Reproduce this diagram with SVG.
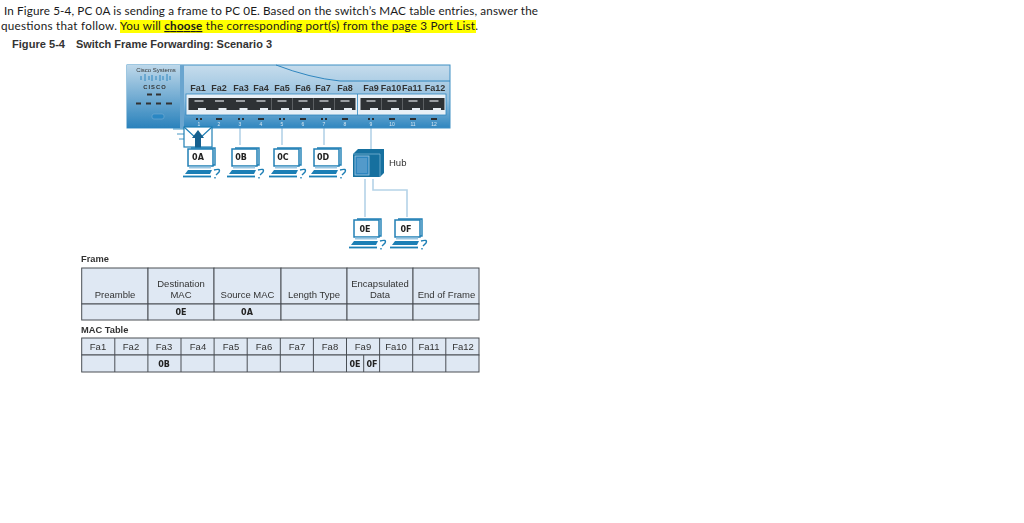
<svg xmlns="http://www.w3.org/2000/svg" width="1024" height="523" viewBox="0 0 1024 523">
<defs>
<linearGradient id="sw" x1="0" y1="0" x2="0" y2="1"><stop offset="0" stop-color="#c6dcec"/><stop offset="0.55" stop-color="#93bfde"/><stop offset="1" stop-color="#2f86bf"/></linearGradient>
<linearGradient id="lp" x1="0" y1="0" x2="0" y2="1"><stop offset="0" stop-color="#bed8ea"/><stop offset="1" stop-color="#2a82bc"/></linearGradient>
<filter id="soft" x="-5%" y="-5%" width="110%" height="110%"><feGaussianBlur stdDeviation="0.4"/></filter>
<g id="pc">
<rect x="2" y="2" width="25" height="17" fill="#fff" stroke="#1f7fb5" stroke-width="1.5"/>
<path d="M5 1H29V18H27" fill="none" stroke="#1f7fb5" stroke-width="1.4"/>
<path d="M3 19.500H25V21.500H3Z" fill="#9cc7e2"/>
<path d="M2 23H26L24 27H-1Z" fill="#1f7fb5"/>
<path d="M-3 29.500H25" stroke="#1f7fb5" stroke-width="1.800"/>
<path d="M28 23Q35 21 33 25L30 28M29 30V31.500" fill="none" stroke="#1f7fb5" stroke-width="1.400"/>
</g>
<g id="port"><rect x="-10.500" y="0" width="21" height="12" fill="#2e3034"/><rect x="-4.500" y="2" width="9" height="2" fill="#9a9ea2"/><rect x="-1" y="10" width="8" height="2.500" fill="#e8eef3"/></g>
</defs>
<style>
.t{font-family:"Lato","Open Sans",sans-serif;font-size:11.700px;fill:#1a1a1a}
.f{font-family:"Liberation Sans",Arial,sans-serif;fill:#333}
.h{font-family:"Liberation Sans",Arial,sans-serif;font-weight:bold;font-size:10.500px;fill:#333}
.pl{font-size:9px;font-weight:bold;fill:#333;text-anchor:middle;font-family:"Liberation Sans",Arial,sans-serif}
.c{font-size:9.500px;text-anchor:middle}
.id{font-size:8px;font-weight:bold;text-anchor:middle;fill:#222;font-family:"DejaVu Sans",sans-serif}
.cell{fill:#dfe8f3;stroke:#4a4f55;stroke-width:1}
.link{fill:none;stroke:#b5d3e8;stroke-width:1.600}
.n{font-size:5px;fill:#d8e6f0;text-anchor:middle;font-family:"Liberation Sans",Arial,sans-serif}
</style>

<g id="intro">
<rect x="120" y="20" width="356" height="13" fill="#ffff00"/>
<text class="t" x="4" y="15" textLength="534">In Figure 5-4, PC 0A is sending a frame to PC 0E. Based on the switch’s MAC table entries, answer the</text>
<text class="t" x="1" y="30" textLength="116">questions that follow.</text>
<text class="t" x="120" y="30" textLength="358">You will <tspan font-weight="bold" text-decoration="underline">choose</tspan> the corresponding port(s) from the page 3 Port List.</text>
<text class="h" x="12" y="48" textLength="53" lengthAdjust="spacingAndGlyphs">Figure 5-4</text>
<text class="h" x="76" y="48" textLength="196" lengthAdjust="spacingAndGlyphs">Switch Frame Forwarding: Scenario 3</text>
</g>

<g filter="url(#soft)">
<g id="connectors">
<path class="link" d="M240 111V145M282 111V145M324 111V145M371 111V149"/>
<path class="link" d="M365 179V217M373 179V190H407V217"/>
<path class="link" d="M199 111V120"/>
</g>

<g id="switch">
<rect x="127" y="65" width="323" height="63" fill="url(#sw)" stroke="#3f8fc4"/>
<rect x="127" y="65" width="57" height="63" fill="url(#lp)"/>
<rect x="180" y="65" width="4" height="63" fill="#6aa5cf"/>
<path d="M276 65Q310 78 340 81H450" fill="none" stroke="#2f86bf"/>
<text class="f" x="156" y="72" font-size="6" text-anchor="middle">Cisco Systems</text>
<path d="M141 80V76M145 81V74M149 80V76M152 81V75M156 80V76M160 81V75M163 80V76M167 81V74M170 80V76" stroke="#2f86bf" stroke-width="1"/>
<text class="f" x="155" y="89" font-size="5.800" font-weight="bold" text-anchor="middle" letter-spacing="1" fill="#222">CISCO</text>
<path d="M147 94.500H152M156 94.500H161M136 103.500H141M146 103.500H151M156 103.500H161M166 103.500H172" stroke="#333" stroke-width="2"/>
<rect x="152" y="114" width="12" height="5" rx="2" fill="#2b87c3" stroke="#7fb2d4" stroke-width="0.500"/>
<text class="pl" x="198" y="91">Fa1</text><text class="pl" x="219" y="91">Fa2</text><text class="pl" x="241" y="91">Fa3</text><text class="pl" x="261" y="91">Fa4</text><text class="pl" x="282" y="91">Fa5</text><text class="pl" x="303" y="91">Fa6</text><text class="pl" x="323" y="91">Fa7</text><text class="pl" x="345" y="91">Fa8</text><text class="pl" x="371" y="91">Fa9</text><text class="pl" x="391" y="91">Fa10</text><text class="pl" x="412" y="91">Fa11</text><text class="pl" x="435" y="91">Fa12</text>
<rect x="186" y="94" width="260" height="21" fill="#e9f0f6" stroke="#2f86bf" stroke-width="0.800"/>
<path d="M357.500 94V115" stroke="#2f86bf" stroke-width="0.800"/>
<use href="#port" x="199" y="98"/><use href="#port" x="219.500" y="98"/><use href="#port" x="240.500" y="98"/><use href="#port" x="261" y="98"/><use href="#port" x="282" y="98"/><use href="#port" x="303" y="98"/><use href="#port" x="324" y="98"/><use href="#port" x="345" y="98"/><use href="#port" x="371" y="98"/><use href="#port" x="392" y="98"/><use href="#port" x="413" y="98"/><use href="#port" x="434" y="98"/>
<path d="M196 119H198M200 119H202M238 119H240M242 119H244M279 119H281M283 119H285M321 119H323M325 119H327M368 119H370M372 119H374M216 119H222M258 119H264M300 119H306M342 119H348M389 119H395M410 119H416M431 119H437" stroke="#2b2f33" stroke-width="1.800"/>
<text class="n" x="199" y="126">1</text><text class="n" x="219" y="126">2</text><text class="n" x="240" y="126">3</text><text class="n" x="261" y="126">4</text><text class="n" x="282" y="126">5</text><text class="n" x="303" y="126">6</text><text class="n" x="324" y="126">7</text><text class="n" x="345" y="126">8</text><text class="n" x="371" y="126">9</text><text class="n" x="392" y="126">10</text><text class="n" x="413" y="126">11</text><text class="n" x="434" y="126">12</text>
</g>

<g id="frame-icon">
<path d="M173 129H184M177 134H184M179 139H184" stroke="#1f7fb5" stroke-width="0.800"/>
<rect x="184" y="127" width="28" height="20" fill="#fff" stroke="#1f7fb5" stroke-width="1.200"/>
<path d="M184 127L198 140L212 127" fill="none" stroke="#1f7fb5" stroke-width="1.200"/>
<path d="M198 130L204 138H201V148H195V138H192Z" fill="#14618f"/>
</g>

<g id="pc-0A"><use href="#pc" x="186" y="147"/><text class="id" x="198" y="160">0A</text></g>
<g id="pc-0B"><use href="#pc" x="230" y="147"/><text class="id" x="241" y="160">0B</text></g>
<g id="pc-0C"><use href="#pc" x="272" y="147"/><text class="id" x="283" y="160">0C</text></g>
<g id="pc-0D"><use href="#pc" x="312" y="147"/><text class="id" x="323" y="160">0D</text></g>

<g id="hub">
<path d="M353 154L358 149H384V173L380 177H353Z" fill="#14709f"/>
<path d="M353 154H380V177" fill="none" stroke="#8dbcdb" stroke-width="0.700"/>
<rect x="355" y="156" width="14" height="19" fill="#2f86bf" stroke="#a5cbe4" stroke-width="0.800"/>
<path d="M358 158V173M360 158V173M362 158V173M364 158V173M366 158V173" stroke="#a5cbe4" stroke-width="0.600"/>
<text class="f" x="389" y="166" font-size="9.500">Hub</text>
</g>

<g id="pc-0E"><use href="#pc" x="352" y="218"/><text class="id" x="365" y="232">0E</text></g>
<g id="pc-0F"><use href="#pc" x="393" y="218"/><text class="id" x="406" y="232">0F</text></g>

<g id="frame-table">
<text class="f" x="81" y="262" font-size="9.300" font-weight="bold" fill="#222">Frame</text>
<rect class="cell" x="81.700" y="268" width="66.300" height="36"/><rect class="cell" x="148" y="268" width="66" height="36"/><rect class="cell" x="214" y="268" width="67" height="36"/><rect class="cell" x="281" y="268" width="66" height="36"/><rect class="cell" x="347" y="268" width="66" height="36"/><rect class="cell" x="413" y="268" width="66" height="36"/>
<rect class="cell" x="81.700" y="304" width="66.300" height="16"/><rect class="cell" x="148" y="304" width="66" height="16"/><rect class="cell" x="214" y="304" width="67" height="16"/><rect class="cell" x="281" y="304" width="66" height="16"/><rect class="cell" x="347" y="304" width="66" height="16"/><rect class="cell" x="413" y="304" width="66" height="16"/>
<text class="f c" x="115" y="298">Preamble</text>
<text class="f c" x="181" y="287">Destination</text><text class="f c" x="181" y="298">MAC</text>
<text class="f c" x="247.500" y="298">Source MAC</text>
<text class="f c" x="314" y="298">Length Type</text>
<text class="f c" x="380" y="287">Encapsulated</text><text class="f c" x="380" y="298">Data</text>
<text class="f c" x="446.500" y="298">End of Frame</text>
<text class="id" x="181" y="315">0E</text><text class="id" x="247" y="315">0A</text>
</g>

<g id="mac-table">
<text class="f" x="81" y="333" font-size="9.300" font-weight="bold" fill="#222">MAC Table</text>
<rect class="cell" x="81.700" y="338" width="397.300" height="17"/><rect class="cell" x="81.700" y="355" width="397.300" height="17"/>
<path d="M114.800 338V372M147.900 338V372M181 338V372M214.100 338V372M247.200 338V372M280.300 338V372M313.400 338V372M346.500 338V372M379.600 338V372M412.700 338V372M445.800 338V372M363.700 355V372" stroke="#4a4f55" stroke-width="1" fill="none"/>
<text class="f c" x="98" y="350">Fa1</text><text class="f c" x="131" y="350">Fa2</text><text class="f c" x="164" y="350">Fa3</text><text class="f c" x="198" y="350">Fa4</text><text class="f c" x="231" y="350">Fa5</text><text class="f c" x="264" y="350">Fa6</text><text class="f c" x="297" y="350">Fa7</text><text class="f c" x="330" y="350">Fa8</text><text class="f c" x="363" y="350">Fa9</text><text class="f c" x="396" y="350">Fa10</text><text class="f c" x="429" y="350">Fa11</text><text class="f c" x="463" y="350">Fa12</text>
<text class="id" x="164" y="367">0B</text><text class="id" x="355" y="367">0E</text><text class="id" x="372" y="367">0F</text>
</g>
</g>
</svg>
